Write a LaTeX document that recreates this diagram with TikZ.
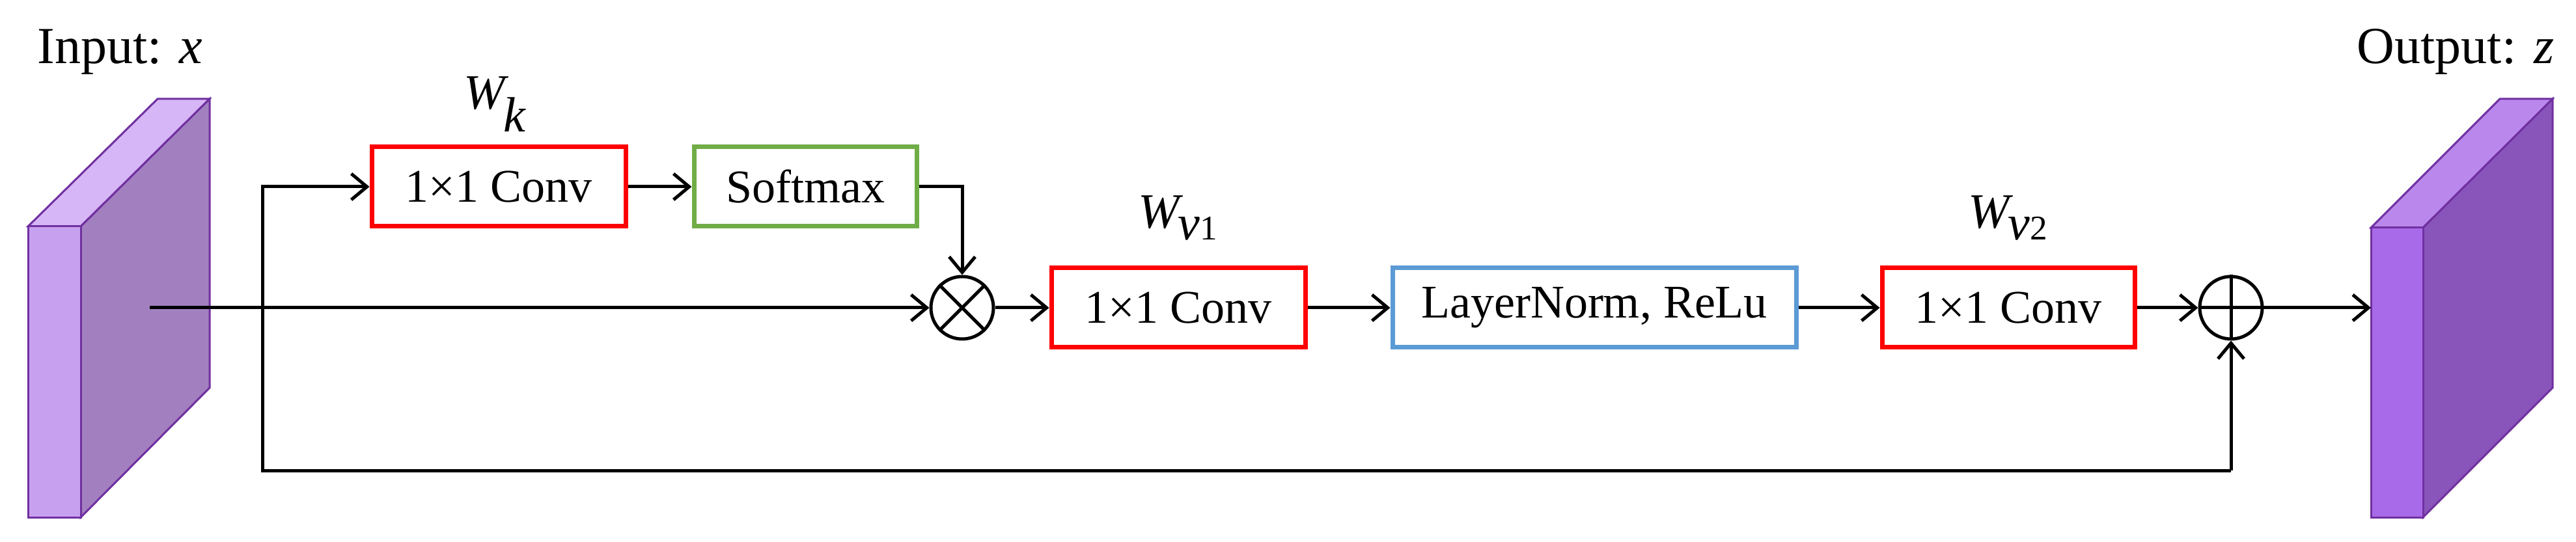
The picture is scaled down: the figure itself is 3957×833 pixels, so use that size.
\documentclass[tikz,border=0pt]{standalone}
\usepackage{fontspec}
\setmainfont{Liberation Serif}
\usetikzlibrary{arrows.meta}
\definecolor{cred}{HTML}{FF0000}
\definecolor{cgreen}{HTML}{70AD47}
\definecolor{cblue}{HTML}{5B9BD5}
\definecolor{pedge}{HTML}{7030A0}
\begin{document}
\begin{tikzpicture}[x=0.5pt,y=-0.5pt,
  box/.style={draw=#1,line width=3.5pt,minimum height=61pt,inner sep=0pt,font=\fontsize{36}{40}\selectfont,fill=white},
  lab/.style={font=\fontsize{40}{44}\selectfont},
  wl/.style={font=\fontsize{38}{42}\selectfont},
  ar/.style={line width=2.5pt,-{Straight Barb[length=12pt,width=20pt,line width=2.5pt]}},
  ln/.style={line width=2.5pt},
  op/.style={circle,draw,line width=2.5pt,minimum size=48pt,inner sep=0pt}]
\useasboundingbox (0,0) rectangle (3957,833);
% input slab
\filldraw[fill=violet!15!white!80!magenta!0,draw=pedge,line width=1.5pt,fill={rgb,255:red,214;green,182;blue,246}] (43,348) -- (242,152) -- (322,152) -- (124,348) -- cycle;
\filldraw[draw=pedge,line width=1.5pt,fill={rgb,255:red,162;green,128;blue,192}] (124,348) -- (322,152) -- (322,596) -- (124,795) -- cycle;
\filldraw[draw=pedge,line width=1.5pt,fill={rgb,255:red,200;green,160;blue,240}] (43,348) rectangle (124,795);
\node[lab] (in) at (184,80) {Input: \textit{x}};
% output slab
\filldraw[draw=pedge,line width=1.5pt,fill={rgb,255:red,186;green,136;blue,236}] (3642,350) -- (3840,152) -- (3921,152) -- (3722,350) -- cycle;
\filldraw[draw=pedge,line width=1.5pt,fill={rgb,255:red,138;green,85;blue,187}] (3722,350) -- (3921,152) -- (3921,596) -- (3722,795) -- cycle;
\filldraw[draw=pedge,line width=1.5pt,fill={rgb,255:red,168;green,106;blue,232}] (3642,350) rectangle (3722,795);
\node[lab] (out) at (3772,80) {Output: \textit{z}};
% nodes
\coordinate (start) at (230,473);
\coordinate (br) at (403,473);
\node[box=cred,minimum width=195pt] (ck) at (766,287) {1×1 Conv};
\node[box=cgreen,minimum width=171pt] (sm) at (1237,287) {Softmax};
\node[wl] (wk) at (760,160) {\textit{W}$_{\!\textit{k}}$};
\node[op] (mul) at (1478,473) {};
\draw[line width=2.5pt] (mul.north east) -- (mul.south west) (mul.north west) -- (mul.south east);
\node[box=cred,minimum width=195pt] (c1) at (1810,473) {1×1 Conv};
\node[wl] (w1) at (1810,335) {\textit{W}$_{\!\textit{v}\rm 1}$};
\node[box=cblue,minimum width=310pt] (lnr) at (2449,473) {LayerNorm, ReLu};
\node[box=cred,minimum width=194pt] (c2) at (3085,473) {1×1 Conv};
\node[wl] (w2) at (3085,335) {\textit{W}$_{\!\textit{v}\rm 2}$};
\node[op] (add) at (3427,473) {};
\draw[line width=2.5pt] (add.north) -- (add.south) (add.west) -- (add.east);
\coordinate (outin) at (3642,473);
% connectors
\draw[ar] (start) -- (mul);
\draw[ar] (403,723) -- (br |- ck) -- (ck);
\draw[ln] (br) -- (403,723) -- (add |- 0,723);
\draw[ar] (add |- 0,723) -- (add);
\draw[ar] (ck) -- (sm);
\draw[ar] (sm.east) -| (mul);
\draw[ar] (mul) -- (c1);
\draw[ar] (c1) -- (lnr);
\draw[ar] (lnr) -- (c2);
\draw[ar] (c2) -- (add);
\draw[ar] (add) -- (outin);
\end{tikzpicture}
\end{document}
